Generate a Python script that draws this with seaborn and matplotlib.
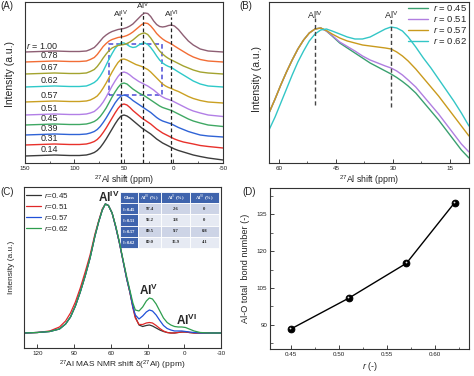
import numpy as np
import pandas as pd
import matplotlib
matplotlib.use('Agg')
import matplotlib.pyplot as plt
import matplotlib.transforms as mtransforms
from matplotlib.patches import Rectangle
from matplotlib.ticker import MultipleLocator
import seaborn as sns

sns.set_style("white")
plt.rcParams['font.family'] = ['Liberation Sans', 'DejaVu Sans']
plt.rcParams['mathtext.fontset'] = 'custom'
plt.rcParams['mathtext.rm'] = 'Liberation Sans'
plt.rcParams['mathtext.it'] = 'Liberation Sans:italic'
plt.rcParams['mathtext.bf'] = 'Liberation Sans:bold'
plt.rcParams['axes.unicode_minus'] = False
plt.rcParams['axes.edgecolor'] = '#333333'
plt.rcParams['axes.linewidth'] = 0.8

# ---- (A) stacked spectra, intensity read in px above the axis bottom ----
r_stack = ['0.14', '0.31', '0.39', '0.45', '0.51', '0.57', '0.62', '0.67', '0.78', '1.00']
base_stack = [7, 18, 28, 38, 48, 61, 76, 89, 101, 111]
ppm_a = [150, 135, 120, 105, 95, 88, 84, 80, 77, 74, 71, 68, 65, 62, 59, 56, 53, 50, 47, 44,
         41, 38, 35, 32, 29, 26, 23, 20, 17, 14, 11, 8, 5, 2, -1, -5, -10, -15, -20, -27, -35, -50]
a_014 = [0, 0.5, 1, 0.5, 0.5, 1, 2, 3.5, 5.5, 8.5, 12.5, 17, 22, 27, 32, 36.5, 40, 41, 40, 38,
         35.5, 33, 30.5, 28, 26, 24, 22, 19.5, 17, 15, 13, 11.5, 10, 8.5, 7, 5.5, 4, 2.5, 1, -0.5, -2, -4]
a_031 = [0, 0.5, 1, 0.5, 0.5, 1, 2, 3.5, 5.5, 8.5, 12.5, 17, 22, 27, 32, 36.5, 40, 41, 40, 37.5,
         34.5, 32, 29.5, 27, 25, 23, 21, 18.5, 16, 14, 12, 10.5, 9, 7.5, 6, 4.5, 3, 2, 1, -0.5, -1.5, -3]
a_039 = [0, 0.5, 1, 0.5, 0.5, 1, 2, 3.5, 5.5, 8.5, 12.5, 17, 22, 27, 32, 36, 39, 40, 39, 37,
         34.5, 32.5, 30.5, 28.5, 26.5, 24.5, 22.5, 20, 17.5, 15.5, 14, 13, 12, 11, 9.5, 7.5, 5.5, 3.5, 2, 0, -1, -2]
a_045 = [0, 0.5, 1, 0.5, 0.5, 1, 2, 3.5, 5.5, 8.5, 12.5, 17, 22.5, 28, 33, 37.5, 41, 42, 41, 38.5,
         36, 34, 32, 30.5, 29, 27, 25, 23, 21, 19, 17.5, 16.5, 15.5, 14.5, 13, 11, 8.5, 6, 4, 2, 0, -1.5]
a_051 = [0, 0.5, 1, 0.5, 0.5, 1, 2, 3.5, 6, 9, 13, 18, 23.5, 29, 34, 38.5, 42, 43, 42, 40,
         37.5, 35.5, 33.5, 32, 30.5, 29, 27, 25, 22.5, 20, 18, 16.5, 15.5, 14.5, 13, 11, 8.5, 6, 4, 2, 0, -1.5]
a_057 = [0, 0.5, 1, 0.5, 0.5, 1, 2, 4, 6, 9.5, 14, 19, 24.5, 30, 35, 39.5, 42.5, 43, 42, 40.5,
         39, 37.5, 36.5, 35.5, 34, 32.5, 30, 27, 24, 21, 18, 16, 14.5, 13.5, 12, 10.5, 8, 5.5, 3.5, 1.5, 0, -1]
a_062 = [0, 0.5, 1, 0.5, 0.5, 1, 2.5, 4.5, 7, 11, 16, 22, 28, 33.5, 38.5, 42, 44, 44, 42.5, 40.5,
         39.5, 40, 42, 43.5, 44, 42.5, 39.5, 35.5, 31, 27, 24, 22, 20.5, 19.5, 17.5, 15, 12, 9, 6, 3, 1, 0]
a_067 = [0, 0.5, 1, 0.5, 0.5, 1, 2.5, 4.5, 7.5, 11.5, 16, 20, 23.5, 26, 27.5, 28.5, 29, 29.5, 30.5, 32,
         34, 36.5, 39, 40.5, 41, 39.5, 36, 31.5, 27, 23, 20, 17.5, 15.5, 14, 12.5, 10.5, 8, 6, 4, 2, 1, 0]
a_078 = [0, 0.5, 1, 0.5, 0.5, 1, 2.5, 4.5, 7.5, 11.5, 15.5, 18.5, 21, 22.5, 23.5, 24.5, 25, 25.5, 26.5, 28,
         30, 32.5, 35, 37.5, 39, 38.5, 36, 32.5, 28.5, 25.5, 23, 21, 19.5, 18, 16, 13.5, 10.5, 7.5, 5, 2.5, 1, 0]
a_100 = [0, 0.5, 1, 0.5, 0.5, 1, 2.5, 4.5, 7.5, 11, 14.5, 17, 19, 20.5, 21.5, 22.5, 23, 23.5, 24.5, 26,
         28, 31, 34, 37, 39, 38.5, 35.5, 31, 27.5, 25.5, 25, 25.5, 26.5, 27, 26, 22.5, 16.5, 11, 7, 3, 1, 0]
spec_a = [a_014, a_031, a_039, a_045, a_051, a_057, a_062, a_067, a_078, a_100]
colors_a = ['#3c3c3c', '#e8312b', '#2f63d6', '#3fa863', '#b27fe6',
            '#caa022', '#2ec9c9', '#a3a32f', '#f26d35', '#8e5f74']

# ---- (B) zoom 63-10 ppm ----
r_b = ['0.45', '0.51', '0.57', '0.62']
ppm_b = [62.6, 61, 59.5, 58, 56.5, 55, 53.5, 52, 50.5, 49, 47.5, 46, 44, 42, 40, 38, 36, 34, 32, 30.5,
         29, 27.5, 26, 24, 22, 20, 18, 16, 14, 12, 10]
b_045 = [50, 64, 78, 91, 103, 114, 123, 130, 134, 135, 132, 127, 120, 115, 110, 105, 100, 96, 92, 89,
         85.5, 81.5, 77, 70, 61, 52, 43, 33, 23, 13, 5]
b_051 = [50, 64, 78, 91, 103, 114, 123, 130, 134, 135, 132, 127.5, 121, 116.5, 112, 107, 103, 100, 97, 95,
         92, 88, 83, 76, 67, 58, 49, 39, 29, 19, 11]
b_057 = [50, 64, 78, 91, 103, 114, 123, 130, 134, 135, 132.5, 129, 125, 122, 120, 118, 117, 116, 115, 114,
         111, 107, 102, 94, 85, 76, 67, 57, 47, 37, 27]
b_062 = [33, 46, 60, 74, 88, 101, 112, 122, 129, 133, 134, 132, 129, 126, 124, 124, 126, 130, 134, 136,
         135, 132, 126, 116, 105, 95, 84, 73, 62, 50, 37]
spec_b = [b_045, b_051, b_057, b_062]
colors_b = ['#3aa070', '#b07ee0', '#c99a1d', '#33c6c6']

# ---- (C) normalised MAS NMR ----
r_c = ['0.45', '0.51', '0.57', '0.62']
ppm_c = [131, 120, 110, 102, 97, 93, 89, 85, 81, 77, 73, 70, 67, 64.5, 62, 59, 56, 53, 50, 47,
         44.5, 42, 40, 37, 34, 31, 28.5, 26, 23, 20, 17, 14, 11, 8, 5, 2, -1, -4, -8, -13, -20, -30]
c_045 = [15, 15.5, 16.5, 19, 24, 31, 42, 56, 72, 90, 112, 126, 138, 144, 142.5, 135, 121, 105, 87, 69,
         56, 42, 31, 23, 21.5, 22.5, 23, 22, 20, 18, 16.5, 15.5, 15, 15, 15.5, 16, 16, 15.5, 15, 15, 15, 15]
c_051 = [15, 15.5, 17, 21, 27, 35, 46, 60, 76, 93, 114, 127, 139, 144, 142.5, 135, 121, 105, 87, 69,
         56, 40, 30, 23.5, 23.5, 25, 25.5, 25, 22.5, 19.5, 17, 15.5, 15, 15, 15.5, 16, 16, 15.5, 15, 15, 15, 15]
c_057 = [15, 15.5, 16.5, 19, 24, 31, 42, 56, 72, 90, 112, 126, 138, 144, 142.5, 135, 121, 105, 87, 69,
         56.5, 41, 33, 29, 32, 36, 38, 37, 33, 27.5, 22.5, 19.5, 18, 17, 17, 17, 16.5, 16, 15.5, 15, 15, 15]
c_062 = [15, 15.5, 16.5, 19, 24, 31, 42, 56, 72, 90, 112, 126, 138, 144, 142.5, 135, 122, 106, 88, 71,
         58, 45, 38, 37, 41, 47, 50, 49, 44, 37, 30, 25.5, 23, 21.5, 21, 21, 20.5, 19, 17, 15.5, 15, 15]
spec_c = [c_045, c_051, c_057, c_062]
colors_c = ['#333333', '#e02828', '#2050d8', '#2e9e4e']

tab_glass = ['0.45', '0.51', '0.57', '0.62']
tab_al4 = [97.4, 96.2, 89.5, 80.0]
tab_al5 = [2.6, 3.8, 9.7, 15.9]
tab_al6 = [0, 0, 0.8, 4.1]

# ---- (D) Al-O bond number ----
r_d = [0.45, 0.51, 0.57, 0.62]
bond_d = [88.4, 100.9, 115.1, 139.7]


def style_axis(ax, tick_size=4.5):
    ax.tick_params(axis='both', which='major', direction='in', length=3, width=0.6,
                   labelsize=tick_size, pad=2, bottom=True, colors='#222222')
    ax.tick_params(axis='both', which='minor', direction='in', length=1.8, width=0.5, bottom=True)
    for s in ax.spines.values():
        s.set_color('#333333')
        s.set_linewidth(0.8)


def long_frame(xs, series, labels, offsets=None):
    rows = []
    for k, (lab, vals) in enumerate(zip(labels, series)):
        off = offsets[k] if offsets is not None else 0
        for x, v in zip(xs, vals):
            rows.append({'ppm': x, 'y': off + v, 'r': lab})
    return pd.DataFrame(rows)


fig = plt.figure(figsize=(4.74, 3.76), dpi=100)

# (A)
axA = fig.add_axes([0.0527, 0.5665, 0.4177, 0.4282])
df_a = long_frame(ppm_a, spec_a, r_stack, base_stack)
sns.lineplot(data=df_a, x='ppm', y='y', hue='r', hue_order=r_stack,
             palette=dict(zip(r_stack, colors_a)), estimator=None, legend=False,
             lw=1.0, ax=axA)
axA.set_xlim(150, -50)
axA.set_ylim(0, 161)
axA.set_yticks([])
axA.set_xticks([150, 100, 50, 0, -50])
axA.xaxis.set_minor_locator(MultipleLocator(25))
style_axis(axA)
for x, top in [(53, 146), (31, 151), (2.5, 146)]:
    axA.plot([x, x], [0, top], color='#222222', lw=0.9, ls=(0, (3, 2)))
axA.text(53, 149, r'Al$^{\mathrm{IV}}$', fontsize=6, ha='center', va='center')
axA.text(31, 157, r'Al$^{\mathrm{V}}$', fontsize=6, ha='center', va='center')
axA.text(2.5, 149, r'Al$^{\mathrm{VI}}$', fontsize=6, ha='center', va='center')
axA.add_patch(Rectangle((65.2, 68), 11.6 - 65.2, 119 - 68, fill=False,
                        ec='#4b4bd6', lw=1.1, ls=(0, (3, 2))))
for lab, base in zip(r_stack, base_stack):
    if lab == '1.00':
        axA.text(149, base + 6, r'$r$ = 1.00', fontsize=6.5, ha='left', va='center')
    else:
        axA.text(134, base + 6, lab, fontsize=6.5, ha='left', va='center')
axA.set_xlabel(r'$^{27}$Al shift (ppm)', fontsize=6.3, labelpad=1.5)
axA.set_ylabel('Intensity (a.u.)', fontsize=7.5)
axA.yaxis.set_label_coords(-0.05, 0.55)

# (B)
axB = fig.add_axes([0.5675, 0.5665, 0.4219, 0.4282])
labs_b = [r'$r$ = ' + l for l in r_b]
df_b = long_frame(ppm_b, spec_b, labs_b)
sns.lineplot(data=df_b, x='ppm', y='y', hue='r', hue_order=labs_b,
             palette=dict(zip(labs_b, colors_b)), estimator=None, lw=1.0, ax=axB)
axB.set_xlim(62.6, 10)
axB.set_ylim(0, 161)
axB.set_yticks([])
axB.set_xticks([60, 45, 30, 15])
axB.xaxis.set_minor_locator(MultipleLocator(7.5))
style_axis(axB)
axB.plot([50.5, 50.5], [58, 145], color='#444444', lw=1.0, ls=(0, (3, 2)))
axB.plot([30.4, 30.4], [56, 145], color='#444444', lw=1.0, ls=(0, (3, 2)))
axB.text(50.5, 148, r'Al$^{\mathrm{IV}}$', fontsize=6.5, ha='center', va='center')
axB.text(30.4, 148, r'Al$^{\mathrm{V}}$', fontsize=6.5, ha='center', va='center')
sns.move_legend(axB, 'upper right', bbox_to_anchor=(1.0, 1.005), frameon=False, title=None,
                fontsize=6.8, handlelength=2.1, handletextpad=0.5, labelspacing=0.12,
                borderaxespad=0.2, borderpad=0)
axB.set_xlabel(r'$^{27}$Al shift (ppm)', fontsize=6.3, labelpad=1.5)
axB.set_ylabel('Intensity (a.u.)', fontsize=7.5)
axB.yaxis.set_label_coords(-0.035, 0.52)

# (C)
axC = fig.add_axes([0.0506, 0.0745, 0.4156, 0.4282])
labs_c = [r'$r$=' + l for l in r_c]
df_c = long_frame(ppm_c, spec_c, labs_c)
sns.lineplot(data=df_c, x='ppm', y='y', hue='r', hue_order=labs_c,
             palette=dict(zip(labs_c, colors_c)), estimator=None, lw=0.9, ax=axC)
axC.set_xlim(131, -30)
axC.set_ylim(0, 161)
axC.set_yticks([])
axC.set_xticks([120, 90, 60, 30, 0, -30])
style_axis(axC)
axC.text(62, 151, r'Al$^{\mathbf{IV}}$', fontsize=8.5, fontweight='bold', ha='center', va='center')
axC.text(29, 58, r'Al$^{\mathbf{V}}$', fontsize=8.5, fontweight='bold', ha='center', va='center')
axC.text(-2, 28, r'Al$^{\mathbf{VI}}$', fontsize=8.5, fontweight='bold', ha='center', va='center')
sns.move_legend(axC, 'upper left', bbox_to_anchor=(0.01, 0.975), frameon=False, title=None,
                fontsize=5.8, handlelength=1.9, handletextpad=0.4, labelspacing=0.25,
                borderaxespad=0, borderpad=0)
headers = ['Glass', r'Al$^{\mathrm{IV}}$ (%)', r'Al$^{\mathrm{V}}$ (%)', r'Al$^{\mathrm{VI}}$ (%)']
cells = [[r'$r$=' + g, str(a), str(b), str(c)]
         for g, a, b, c in zip(tab_glass, tab_al4, tab_al5, tab_al6)]
tab = axC.table(cellText=cells, colLabels=headers, colWidths=[0.18, 0.23, 0.28, 0.29],
                bbox=[0.487, 0.621, 0.503, 0.348], cellLoc='center')
tab.auto_set_font_size(False)
for (i, j), cell in tab.get_celld().items():
    cell.set_edgecolor('white')
    cell.set_linewidth(0.6)
    t = cell.get_text()
    t.set_fontsize(3.3)
    t.set_fontfamily('Liberation Serif')
    t.set_fontweight('bold')
    if i == 0 or j == 0:
        cell.set_facecolor('#3f64ad')
        t.set_color('white')
    else:
        cell.set_facecolor('#cdd4e6' if i % 2 == 1 else '#e6eaf3')
        t.set_color('#222222')
axC.set_xlabel(r'$^{27}$Al MAS NMR shift δ($^{27}$Al) (ppm)', fontsize=6, labelpad=2)
axC.set_ylabel('Intensity (a.u.)', fontsize=6)
axC.yaxis.set_label_coords(-0.046, 0.5)

# (D)
axD = fig.add_axes([0.5696, 0.0718, 0.4198, 0.4282])
sns.lineplot(x=r_d, y=bond_d, color='black', lw=1.0, marker='o', markersize=4.8,
             markeredgecolor='black', ax=axD)
glint = mtransforms.offset_copy(axD.transData, fig=fig, x=-0.7, y=0.7, units='points')
axD.plot(r_d, bond_d, 'o', ms=1.3, color='#e0e0e0', mec='none', transform=glint, zorder=5)
axD.set_xlim(0.428, 0.635)
axD.set_ylim(80.2, 145.7)
axD.set_xticks([0.45, 0.50, 0.55, 0.60])
axD.set_yticks([90, 105, 120, 135])
axD.xaxis.set_minor_locator(MultipleLocator(0.025))
axD.yaxis.set_minor_locator(MultipleLocator(7.5))
style_axis(axD)
axD.tick_params(axis='y', which='both', left=True)
axD.set_xlabel(r'$r$ (-)', fontsize=6.5, labelpad=2)
axD.set_ylabel('Al-O total  bond number (-)', fontsize=6.6)
axD.yaxis.set_label_coords(-0.10, 0.5)

fig.text(0.001, 0.997, '(A)', fontsize=7, ha='left', va='top')
fig.text(239 / 474, 0.997, '(B)', fontsize=7, ha='left', va='top')
fig.text(0.001, 1 - 187 / 376, '(C)', fontsize=7, ha='left', va='top')
fig.text(242 / 474, 1 - 187 / 376, '(D)', fontsize=7, ha='left', va='top')

fig.savefig('out.png', dpi=100)
